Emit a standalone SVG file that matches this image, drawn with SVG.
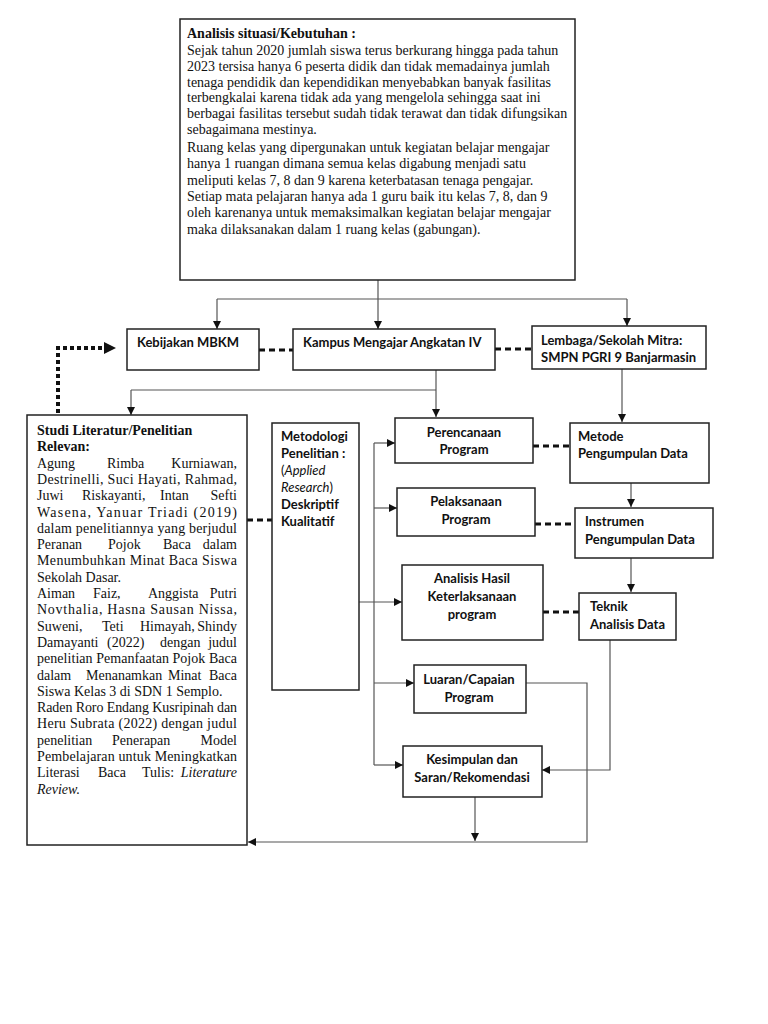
<svg xmlns="http://www.w3.org/2000/svg" width="768" height="1024" viewBox="0 0 768 1024">
<style>
.box{fill:#fff;stroke:#222;stroke-width:1.5}
.ser{font-family:"Liberation Serif","Times New Roman",serif;font-size:14px;fill:#111}
.sb{font-weight:bold}
.san{font-family:Lato,"Liberation Sans",Arial,sans-serif;font-size:13px;font-weight:bold;fill:#111}
.san.it{font-weight:normal;font-style:italic}
.san.nw{font-weight:normal}
.mid{text-anchor:middle}
.ln{fill:none;stroke:#555;stroke-width:1.2}
.ar{marker-end:url(#arr)}
.dash{fill:none;stroke:#111;stroke-width:3;stroke-dasharray:6 4}
.dot{fill:none;stroke:#111;stroke-width:4;stroke-dasharray:4 3}
</style>
<defs>
<marker id="arr" markerUnits="userSpaceOnUse" markerWidth="8" markerHeight="8" refX="8" refY="4" orient="auto"><path d="M0,0 L8,4 L0,8 z" fill="#111"/></marker>
</defs>
<rect width="768" height="1024" fill="#fff"/>

<g id="connectors">
<path class="ln" d="M378,280 V299 M217,299 H627"/>
<path class="ln ar" d="M217,299 V329"/>
<path class="ln ar" d="M378,299 V329"/>
<path class="ln ar" d="M627,299 V326"/>
<path class="dash" d="M259,350 H293"/>
<path class="dash" d="M495,349 H532"/>
<path class="dot" d="M58,413 V348 H104"/>
<path d="M104,342 L116,348 L104,354 z" fill="#111"/>
<path class="ln ar" d="M436,370 V417"/>
<path class="ln" d="M131,390 H436"/>
<path class="ln ar" d="M131,390 V415"/>
<path class="ln ar" d="M622,369 V422"/>
<path class="ln ar" d="M631,483 V507"/>
<path class="ln ar" d="M631,558 V592"/>
<path class="dash" d="M533,446 H570"/>
<path class="dash" d="M535,524 H575"/>
<path class="dash" d="M543,612 H579"/>
<path class="dash" d="M247,520 H272"/>
<path class="ln" d="M374,443 V765"/>
<path class="ln ar" d="M374,443 H395"/>
<path class="ln ar" d="M374,508 H397"/>
<path class="ln ar" d="M359,602 H402"/>
<path class="ln ar" d="M374,683 H414"/>
<path class="ln ar" d="M374,765 H403"/>
<path class="ln ar" d="M610,640 V770 H542"/>
<path class="ln ar" d="M526,683 H587 V842 H248"/>
<path class="ln ar" d="M475,797 V841"/>
</g>

<g id="analisis">
<rect class="box" x="180" y="19" width="395" height="261"/>
<text class="ser sb" x="187" y="38">Analisis situasi/Kebutuhan :</text>
<text class="ser" x="187" y="55">Sejak tahun 2020 jumlah siswa terus berkurang hingga pada tahun</text>
<text class="ser" x="187" y="70.8">2023 tersisa hanya 6 peserta didik dan tidak memadainya jumlah</text>
<text class="ser" x="187" y="86.6">tenaga pendidik dan kependidikan menyebabkan banyak fasilitas</text>
<text class="ser" x="187" y="102.4">terbengkalai karena tidak ada yang mengelola sehingga saat ini</text>
<text class="ser" x="187" y="118.2">berbagai fasilitas tersebut sudah tidak terawat dan tidak difungsikan</text>
<text class="ser" x="187" y="134">sebagaimana mestinya.</text>
<text class="ser" x="187" y="152">Ruang kelas yang dipergunakan untuk kegiatan belajar mengajar</text>
<text class="ser" x="187" y="168.3">hanya 1 ruangan dimana semua kelas digabung menjadi satu</text>
<text class="ser" x="187" y="184.6">meliputi kelas 7, 8 dan 9 karena keterbatasan tenaga pengajar.</text>
<text class="ser" x="187" y="200.9">Setiap mata pelajaran hanya ada 1 guru baik itu kelas 7, 8, dan 9</text>
<text class="ser" x="187" y="217.2">oleh karenanya untuk memaksimalkan kegiatan belajar mengajar</text>
<text class="ser" x="187" y="233.5">maka dilaksanakan dalam 1 ruang kelas (gabungan).</text>
</g>

<g id="kebijakan">
<rect class="box" x="127" y="329" width="132" height="41"/>
<text class="san" x="137" y="347">Kebijakan MBKM</text>
</g>

<g id="kampus">
<rect class="box" x="293" y="329" width="202" height="41"/>
<text class="san" x="303" y="347">Kampus Mengajar Angkatan IV</text>
</g>

<g id="lembaga">
<rect class="box" x="532" y="326" width="174" height="43"/>
<text class="san" x="541" y="345">Lembaga/Sekolah Mitra:</text>
<text class="san" x="541" y="362">SMPN PGRI 9 Banjarmasin</text>
</g>

<g id="studi">
<rect class="box" x="27" y="415" width="220" height="430"/>
<text class="ser sb" x="37" y="435">Studi Literatur/Penelitian</text>
<text class="ser sb" x="37" y="451.3">Relevan:</text>
<text class="ser" y="467.6"><tspan x="37">Agung</tspan><tspan x="107">Rimba</tspan><tspan x="237" text-anchor="end">Kurniawan,</tspan></text>
<text class="ser" x="37" y="483.9" textLength="200" lengthAdjust="spacing">Destrinelli, Suci Hayati, Rahmad,</text>
<text class="ser" y="500.2"><tspan x="37">Juwi</tspan><tspan x="82">Riskayanti,</tspan><tspan x="160">Intan</tspan><tspan x="237" text-anchor="end">Sefti</tspan></text>
<text class="ser" x="37" y="516.5" textLength="200" lengthAdjust="spacing">Wasena, Yanuar Triadi (2019)</text>
<text class="ser" x="37" y="532.8" textLength="200" lengthAdjust="spacing">dalam penelitiannya yang berjudul</text>
<text class="ser" y="549.1"><tspan x="37">Peranan</tspan><tspan x="108">Pojok</tspan><tspan x="163">Baca</tspan><tspan x="237" text-anchor="end">dalam</tspan></text>
<text class="ser" x="37" y="565.4" textLength="200" lengthAdjust="spacing">Menumbuhkan Minat Baca Siswa</text>
<text class="ser" x="37" y="581.7">Sekolah Dasar.</text>
<text class="ser" y="598"><tspan x="37">Aiman</tspan><tspan x="93">Faiz,</tspan><tspan x="148">Anggista</tspan><tspan x="237" text-anchor="end">Putri</tspan></text>
<text class="ser" x="37" y="614.3" textLength="200" lengthAdjust="spacing">Novthalia, Hasna Sausan Nissa,</text>
<text class="ser" y="630.6"><tspan x="37">Suweni,</tspan><tspan x="102">Teti</tspan><tspan x="140">Himayah,</tspan><tspan x="237" text-anchor="end">Shindy</tspan></text>
<text class="ser" y="646.9"><tspan x="37">Damayanti</tspan><tspan x="107">(2022)</tspan><tspan x="160">dengan</tspan><tspan x="237" text-anchor="end">judul</tspan></text>
<text class="ser" x="37" y="663.2" textLength="200" lengthAdjust="spacing">penelitian Pemanfaatan Pojok Baca</text>
<text class="ser" y="679.5"><tspan x="37">dalam</tspan><tspan x="86">Menanamkan</tspan><tspan x="168">Minat</tspan><tspan x="237" text-anchor="end">Baca</tspan></text>
<text class="ser" x="37" y="695.8">Siswa Kelas 3 di SDN 1 Semplo.</text>
<text class="ser" x="37" y="712.1" textLength="200" lengthAdjust="spacing">Raden Roro Endang Kusripinah dan</text>
<text class="ser" x="37" y="728.4" textLength="200" lengthAdjust="spacing">Heru Subrata (2022) dengan judul</text>
<text class="ser" y="744.7"><tspan x="37">penelitian</tspan><tspan x="112">Penerapan</tspan><tspan x="237" text-anchor="end">Model</tspan></text>
<text class="ser" x="37" y="761" textLength="200" lengthAdjust="spacing">Pembelajaran untuk Meningkatkan</text>
<text class="ser" y="777.3"><tspan x="37">Literasi</tspan><tspan x="98">Baca</tspan><tspan x="142">Tulis:</tspan><tspan x="237" text-anchor="end" font-style="italic">Literature</tspan></text>
<text class="ser" x="37" y="793.6" font-style="italic">Review.</text>
</g>

<g id="metodologi">
<rect class="box" x="272" y="423" width="87" height="267"/>
<text class="san" x="281" y="441">Metodologi</text>
<text class="san" x="281" y="458">Penelitian :</text>
<text class="san nw" x="281" y="475">(<tspan font-style="italic">Applied</tspan></text>
<text class="san nw" x="281" y="492"><tspan font-style="italic">Research</tspan>)</text>
<text class="san" x="281" y="509">Deskriptif</text>
<text class="san" x="281" y="526">Kualitatif</text>
</g>

<g id="perencanaan">
<rect class="box" x="395" y="418" width="138" height="45"/>
<text class="san mid" x="464" y="436.5">Perencanaan</text>
<text class="san mid" x="464" y="453.5">Program</text>
</g>

<g id="pelaksanaan">
<rect class="box" x="397" y="488" width="138" height="48"/>
<text class="san mid" x="466" y="505.5">Pelaksanaan</text>
<text class="san mid" x="466" y="523.5">Program</text>
</g>

<g id="analisis-hasil">
<rect class="box" x="402" y="565" width="141" height="75"/>
<text class="san mid" x="472" y="582.5">Analisis Hasil</text>
<text class="san mid" x="472" y="600.5">Keterlaksanaan</text>
<text class="san mid" x="472" y="618.5">program</text>
</g>

<g id="luaran">
<rect class="box" x="414" y="665" width="112" height="48"/>
<text class="san mid" x="469" y="683.5">Luaran/Capaian</text>
<text class="san mid" x="469" y="701.5">Program</text>
</g>

<g id="kesimpulan">
<rect class="box" x="403" y="746" width="139" height="51"/>
<text class="san mid" x="472" y="763.5">Kesimpulan dan</text>
<text class="san mid" x="472" y="781.5">Saran/Rekomendasi</text>
</g>

<g id="metode">
<rect class="box" x="570" y="423" width="139" height="60"/>
<text class="san" x="578" y="440.5">Metode</text>
<text class="san" x="578" y="457.5">Pengumpulan Data</text>
</g>

<g id="instrumen">
<rect class="box" x="575" y="508" width="138" height="50"/>
<text class="san" x="585" y="526">Instrumen</text>
<text class="san" x="585" y="543.5">Pengumpulan Data</text>
</g>

<g id="teknik">
<rect class="box" x="579" y="593" width="97" height="47"/>
<text class="san" x="590" y="611">Teknik</text>
<text class="san" x="590" y="628.5">Analisis Data</text>
</g>
</svg>
